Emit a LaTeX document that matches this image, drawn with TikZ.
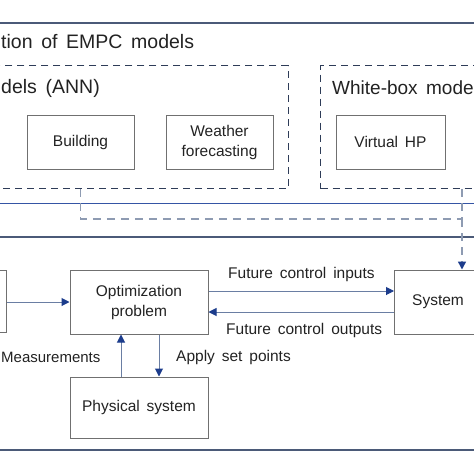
\documentclass[tikz,border=0pt]{standalone}
\usepackage{fontspec}
\setmainfont{Liberation Sans}[WordSpace=1.6]
\usetikzlibrary{arrows.meta}
\definecolor{frame}{HTML}{4B5A78}
\definecolor{bluel}{HTML}{3555A5}
\definecolor{dashk}{HTML}{2E3C58}
\definecolor{dashg}{HTML}{8E9BB2}
\definecolor{boxg}{HTML}{707070}
\definecolor{arrl}{HTML}{6A7EA3}
\definecolor{tipc}{HTML}{1C3C8C}
\definecolor{txt}{HTML}{222222}
\tikzset{
  dbox/.style={draw=dashk, line width=1.4pt, dash pattern=on 7pt off 5pt, anchor=north west, inner sep=0pt},
  ibox/.style={draw=boxg, line width=1pt, text=txt, align=center, inner sep=0pt, font=\fontsize{15.5}{20}\selectfont},
  lbl/.style={text=txt, inner sep=0pt, font=\fontsize{15.5}{20}\selectfont},
  big/.style={text=txt, inner sep=0pt, font=\fontsize{19.5}{23}\selectfont},
  arr/.style={draw=arrl, line width=1pt, -{Triangle[length=8pt,width=8pt,color=tipc]}},
  gdash/.style={draw=dashg, line width=1.5pt, dash pattern=on 8pt off 6pt},
}
\begin{document}
\begin{tikzpicture}[x=1pt,y=-1pt]
\useasboundingbox (0,0) rectangle (474,474);
\clip (0,0) rectangle (474,474);
% frames
\draw[frame, line width=1.5pt] (-20,23) -- (500,23);
\draw[bluel, line width=1pt] (-20,203) -- (500,203);
\draw[frame, line width=2pt] (-20,237) rectangle (500,450);
\node[big, anchor=west] (title) at (1,42) {tion of EMPC models};
% dashed model boxes
\node[dbox, anchor=north east, minimum width=489pt, minimum height=123pt] (ann) at (289,65) {};
\node[dbox, minimum width=300pt, minimum height=123pt] (wb) at (320,65) {};
\node[big, anchor=west] (annl) at (1,88) {dels (ANN)};
\node[big, anchor=west, font=\fontsize{19}{23}\selectfont] (wbl) at (332,88) {White-box mode};
\node[ibox, minimum width=107pt, minimum height=54pt] (bld) at (80.5,142) {Building};
\node[ibox, minimum width=107pt, minimum height=54pt] (wf) at (219.5,142) {Weather\\forecasting};
\node[ibox, minimum width=109pt, minimum height=54pt] (vhp) at (390.5,142) {Virtual HP};
% lower part
\node[ibox, minimum width=100pt, minimum height=62pt, anchor=east] (est) at (7,301) {};
\node[ibox, minimum width=138pt, minimum height=64pt] (opt) at (139,302) {Optimization\\problem};
\node[ibox, minimum width=138pt, minimum height=61pt] (phys) at (139,407.5) {Physical system};
\node[ibox, minimum width=166pt, minimum height=64pt, anchor=west] (sys) at (394,302) {};
\node[lbl, anchor=west] (sysl) at (412,302) {System};
\coordinate (j) at (462,219);
% connectors
\draw[gdash] (bld |- ann.south) -- (bld |- j) -- (j);
\draw[gdash] (j |- wb.south) -- (j);
\draw[arr, dash pattern=on 8pt off 6pt, draw=dashg, line width=1.5pt] (j) -- (j |- sys.north);
\draw[arr] (est.east |- opt.west) -- (opt.west);
\draw[arr] ([yshift=11pt]opt.east) -- ([yshift=11pt]sys.west);
\draw[arr] ([yshift=-10pt]sys.west) -- ([yshift=-10pt]opt.east);
\draw[arr] ([xshift=-18pt]phys.north) -- ([xshift=-18pt]opt.south);
\draw[arr] ([xshift=20pt]opt.south) -- ([xshift=20pt]phys.north);
% labels
\node[lbl, anchor=west] (fci) at (228,274) {Future control inputs};
\node[lbl, anchor=west] (fco) at (226,330) {Future control outputs};
\node[lbl, anchor=west] (asp) at (176,357) {Apply set points};
\node[lbl, anchor=west, font=\fontsize{15}{20}\selectfont] (meas) at (1,357) {Measurements};
\end{tikzpicture}
\end{document}
